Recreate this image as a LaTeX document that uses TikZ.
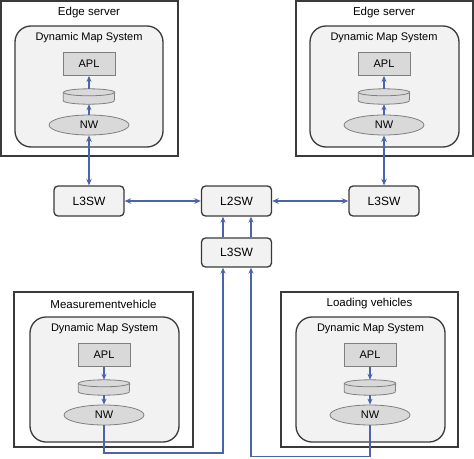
\documentclass[tikz,border=0pt]{standalone}
\usepackage{fontspec}
\setmainfont{Liberation Sans}
\usetikzlibrary{arrows.meta,shapes.geometric,calc}
\definecolor{linkblue}{HTML}{4A64AA}
\definecolor{boxline}{HTML}{3A3A3A}
\definecolor{softgray}{HTML}{F2F2F2}
\definecolor{midgray}{HTML}{D9D9D9}
\definecolor{edgegray}{HTML}{7F7F7F}
\tikzset{
  outerbox/.style={draw=boxline, line width=1.4pt, fill=white},
  innerbox/.style={draw=boxline, line width=1.3pt, fill=softgray, rounded corners=16pt},
  aplbox/.style={draw=edgegray, line width=0.8pt, fill=midgray, minimum width=52pt, minimum height=23pt, inner sep=0pt},
  nwell/.style={ellipse, draw=edgegray, line width=0.8pt, fill=midgray, minimum width=80pt, minimum height=20pt, inner sep=0pt},
  cylslot/.style={minimum width=51pt, minimum height=15pt, inner sep=0pt},
  swbox/.style={draw=boxline, line width=1.3pt, fill=softgray, rounded corners=4pt, minimum width=70pt, minimum height=30pt, inner sep=0pt, font=\fontsize{12}{14}\selectfont},
  conn/.style={draw=linkblue, line width=1.6pt},
  tip/.style={-{Stealth[length=6pt,width=5pt]}},
  bitip/.style={{Stealth[length=6.5pt,width=5.5pt]}-{Stealth[length=6.5pt,width=5.5pt]}},
  ttl/.style={font=\fontsize{11.5}{13}\selectfont, inner sep=0pt},
  lbl/.style={font=\fontsize{11}{13}\selectfont, inner sep=0pt},
}
\newcommand{\drawcyl}[1]{%
  \draw[draw=edgegray, line width=0.8pt, fill=midgray]
    ($(#1.north west)+(0pt,-3.5pt)$) -- ($(#1.south west)+(0pt,3.5pt)$)
    arc[start angle=180,end angle=360,x radius=25.5pt,y radius=3.5pt]
    -- ($(#1.north east)+(0pt,-3.5pt)$)
    arc[start angle=0,end angle=180,x radius=25.5pt,y radius=3.5pt] -- cycle;
  \draw[draw=edgegray, line width=0.8pt]
    ($(#1.north west)+(0pt,-3.5pt)$)
    arc[start angle=180,end angle=360,x radius=25.5pt,y radius=3.5pt];
}
\begin{document}
\begin{tikzpicture}[x=1pt,y=-1pt]
\useasboundingbox (0,0) rectangle (474,458);

% ---------- Edge server (left)
\draw[outerbox] (1,1) rectangle (178,156);
\node[ttl] (t1) at (89,13) {Edge server};
\draw[innerbox] (15,26) rectangle (163,147);
\node[lbl] (d1) at (89,38) {Dynamic Map System};
\node[aplbox, lbl] (apl1) at (89,64) {APL};
\node[cylslot] (cy1) at (89,96.5) {};
\drawcyl{cy1}
\node[nwell, lbl] (nw1) at (89,125) {NW};

% ---------- Edge server (right)
\draw[outerbox] (296,1) rectangle (473,156);
\node[ttl] (t2) at (384,13) {Edge server};
\draw[innerbox] (310,26) rectangle (459,147);
\node[lbl] (d2) at (384,38) {Dynamic Map System};
\node[aplbox, lbl] (apl2) at (384,64) {APL};
\node[cylslot] (cy2) at (384,96.5) {};
\drawcyl{cy2}
\node[nwell, lbl] (nw2) at (384,125) {NW};

% ---------- Measurement vehicle
\draw[outerbox] (14,292) rectangle (193,447);
\node[ttl] (t3) at (103.5,304) {Measurementvehicle};
\draw[innerbox] (30,317) rectangle (179,442);
\node[lbl] (d3) at (104.5,329) {Dynamic Map System};
\node[aplbox, lbl] (apl3) at (104,355) {APL};
\node[cylslot] (cy3) at (104,387.5) {};
\drawcyl{cy3}
\node[nwell, lbl] (nw3) at (104,415) {NW};

% ---------- Loading vehicles
\draw[outerbox] (281,292) rectangle (458,447);
\node[ttl] (t4) at (369.5,304) {Loading vehicles};
\draw[innerbox] (296,317) rectangle (445,442);
\node[lbl] (d4) at (370.5,329) {Dynamic Map System};
\node[aplbox, lbl] (apl4) at (370,355) {APL};
\node[cylslot] (cy4) at (370,387.5) {};
\drawcyl{cy4}
\node[nwell, lbl] (nw4) at (370,415) {NW};

% ---------- switches
\node[swbox] (sw1) at (89,201) {L3SW};
\node[swbox] (sw2) at (236.5,201) {L2SW};
\node[swbox] (sw3) at (384,201) {L3SW};
\node[swbox, minimum height=29pt] (sw4) at (236.5,252.5) {L3SW};

% ---------- internal arrows
\draw[conn,tip] (nw1.north) -- (cy1.south);
\draw[conn,tip] (cy1.north) -- (apl1.south);
\draw[conn,tip] (nw2.north) -- (cy2.south);
\draw[conn,tip] (cy2.north) -- (apl2.south);
\draw[conn,tip] (apl3.south) -- (cy3.north);
\draw[conn,tip] (cy3.south) -- (nw3.north);
\draw[conn,tip] (apl4.south) -- (cy4.north);
\draw[conn,tip] (cy4.south) -- (nw4.north);

% ---------- network links
\draw[conn,bitip] (nw1.south) -- (sw1.north);
\draw[conn,bitip] (nw2.south) -- (sw3.north);
\draw[conn,bitip] (sw1.east) -- (sw2.west);
\draw[conn,bitip] (sw2.east) -- (sw3.west);
\draw[conn,tip] ($(sw4.north)+(-13.5,0)$) -- ($(sw2.south)+(-13.5,0)$);
\draw[conn,tip] ($(sw4.north)+(14.5,0)$) -- ($(sw2.south)+(14.5,0)$);
\coordinate (bl) at (104,453);
\coordinate (br) at (370,456.5);
\draw[conn,tip] (nw3.south) -- (bl) -| ($(sw4.south)+(-13.5,0)$);
\draw[conn,tip] (nw4.south) -- (br) -| ($(sw4.south)+(14.5,0)$);
\end{tikzpicture}
\end{document}
